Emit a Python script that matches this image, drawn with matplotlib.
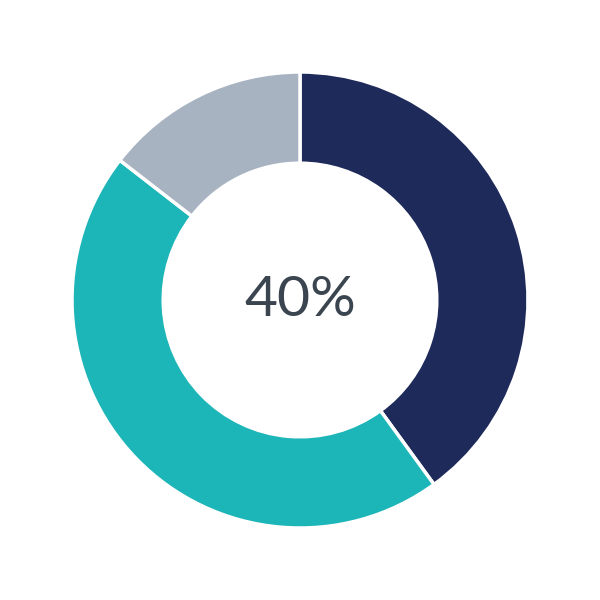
import matplotlib
matplotlib.use('Agg')
import matplotlib.pyplot as plt

# Share of each segment, clockwise from 12 o'clock
labels = ['Navy', 'Teal', 'Grey']
values = [40, 45.5, 14.5]
colors = ['#1e2a5a', '#1cb5b8', '#a8b3c2']
center_label = '40%'

fig = plt.figure(figsize=(6, 6), dpi=100)
ax = fig.add_axes([0, 0, 1, 1])

ax.pie(values, colors=colors, startangle=90, counterclock=False,
       radius=1.0,
       wedgeprops=dict(width=0.4, edgecolor='white', linewidth=2.5))

ax.text(0, 0, center_label, ha='center', va='center',
        fontsize=41, color='#3b4550', family='Lato', fontweight='normal')

lim = 300 / 228
ax.set_xlim(-lim, lim)
ax.set_ylim(-lim, lim)
ax.set_aspect('equal')
ax.axis('off')

fig.savefig('out.png', dpi=100, facecolor='white')
plt.close(fig)
